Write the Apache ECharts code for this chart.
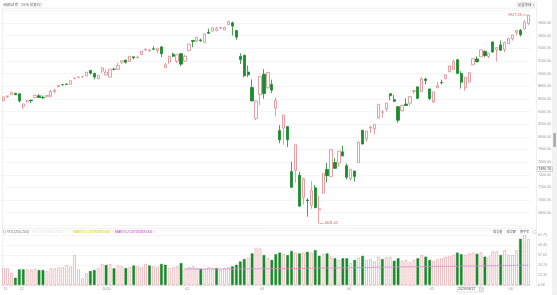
<!DOCTYPE html>
<html><head><meta charset="utf-8">
<script src="https://cdn.jsdelivr.net/npm/echarts@6/dist/echarts.min.js"></script>
<style>html,body{margin:0;padding:0;background:#fff;overflow:hidden}#c{width:557px;height:295px}</style>
</head><body><div id="c"></div>
<script>
const dates = [
'2019-11-25','2019-11-26','2019-11-27','2019-11-29',
'2019-12-02','2019-12-03','2019-12-04','2019-12-05','2019-12-06','2019-12-09','2019-12-10','2019-12-11','2019-12-12','2019-12-13','2019-12-16','2019-12-17','2019-12-18','2019-12-19','2019-12-20','2019-12-23','2019-12-24','2019-12-26','2019-12-27','2019-12-30','2019-12-31',
'2020-01-02','2020-01-03','2020-01-06','2020-01-07','2020-01-08','2020-01-09','2020-01-10','2020-01-13','2020-01-14','2020-01-15','2020-01-16','2020-01-17','2020-01-21','2020-01-22','2020-01-23','2020-01-24','2020-01-27','2020-01-28','2020-01-29','2020-01-30','2020-01-31',
'2020-02-03','2020-02-04','2020-02-05','2020-02-06','2020-02-07','2020-02-10','2020-02-11','2020-02-12','2020-02-13','2020-02-14','2020-02-18','2020-02-19','2020-02-20','2020-02-21','2020-02-24','2020-02-25','2020-02-26','2020-02-27','2020-02-28',
'2020-03-02','2020-03-03','2020-03-04','2020-03-05','2020-03-06','2020-03-09','2020-03-10','2020-03-11','2020-03-12','2020-03-13','2020-03-16','2020-03-17','2020-03-18','2020-03-19','2020-03-20','2020-03-23','2020-03-24','2020-03-25','2020-03-26','2020-03-27','2020-03-30','2020-03-31',
'2020-04-01','2020-04-02','2020-04-03','2020-04-06','2020-04-07','2020-04-08','2020-04-09','2020-04-13','2020-04-14','2020-04-15','2020-04-16','2020-04-17','2020-04-20','2020-04-21','2020-04-22','2020-04-23','2020-04-24','2020-04-27','2020-04-28','2020-04-29','2020-04-30',
'2020-05-01','2020-05-04','2020-05-05','2020-05-06','2020-05-07','2020-05-08','2020-05-11','2020-05-12','2020-05-13','2020-05-14','2020-05-15','2020-05-18','2020-05-19','2020-05-20','2020-05-21','2020-05-22','2020-05-26','2020-05-27','2020-05-28','2020-05-29',
'2020-06-01','2020-06-02','2020-06-03','2020-06-04','2020-06-05','2020-06-08'];

const opens = [8570,8637,8666,8689,
8682,8483,8561,8581,8620,8649,8624,8633,8644,8720,8791,8825,8834,8830,8920,8942,8950,8962,9049,9004,8918,
9039,8977,8944,9070,9068,9181,9213,9193,9265,9252,9302,9378,9359,9392,9362,9422,9093,9181,9307,9194,9315,
9198,9362,9524,9516,9533,9494,9655,9671,9680,9724,9690,9776,9802,9683,9273,9291,9025,8778,8290,
8667,8989,8782,8828,8454,8100,8139,8164,7450,7469,7394,7043,7000,6919,7193,6845,7111,7485,7374,7593,7585,7762,
7543,7338,7460,7595,8103,7966,8140,8130,8302,8390,8443,8683,8588,8477,8413,8519,8533,8717,8790,8717,8914,
8758,8552,8777,8859,8918,9032,9063,9219,9003,8776,8866,9140,9232,9265,9351,9271,9501,9376,9452,9382,
9471,9551,9654,9684,9703,9793];

const highs = [8633,8648,8705,8696,
8682,8522,8581,8581,8665,8674,8654,8660,8743,8763,8823,8833,8843,8887,8941,8949,8957,9022,9052,9007,8973,
9093,9065,9072,9092,9168,9204,9218,9274,9271,9285,9357,9390,9390,9430,9403,9438,9165,9284,9330,9305,9319,
9298,9469,9526,9572,9553,9628,9712,9726,9738,9735,9739,9838,9820,9684,9320,9294,9128,8909,8573,
8953,9071,9019,8904,8627,8184,8345,8165,7604,7875,7444,7354,7029,7301,7238,7072,7419,7587,7798,7663,7776,7862,
7580,7487,7461,7927,8110,8095,8179,8194,8518,8420,8540,8686,8661,8490,8510,8609,8637,8734,8790,8946,8933,
8759,8712,8867,8903,8990,9122,9220,9232,9038,8944,9022,9245,9272,9376,9367,9327,9505,9413,9523,9505,
9571,9609,9688,9704,9845,9927.13];

const lows = [8563,8614,8664,8665,
8543,8435,8542,8534,8616,8621,8601,8627,8627,8686,8784,8810,8823,8828,8913,8926,8934,8961,8987,8908,8912,
9011,8977,8944,9052,9060,9150,9157,9186,9225,9242,9291,9354,9340,9383,9313,9260,9088,9156,9260,9164,9118,
9188,9362,9417,9496,9502,9491,9626,9668,9668,9701,9684,9767,9603,9535,9151,8941,8945,8564,8264,
8501,8603,8758,8691,8322,7898,7876,7838,7194,7273,6900,6932,6737,6863,6870,6631.42,7105,7280,7370,7491,7524,7687,
7326,7303,7293,7591,7877,7919,8060,8036,8285,8305,8398,8576,8552,8222,8406,8488,8489,8680,8596,8706,8829,
8581,8537,8767,8829,8911,9016,9063,9000,8764,8727,8858,9139,9183,9264,9265,9242,9333,9191,9357,9339,
9469,9520,9610,9587,9700,9768];

const closes = [8632,8647,8705,8665,
8567,8521,8566,8570,8656,8622,8616,8654,8717,8735,8814,8823,8827,8887,8925,8945,8952,9022,9006,8945,8972,
9092,9020,9071,9068,9129,9203,9179,9274,9251,9259,9357,9389,9370,9384,9402,9315,9139,9269,9275,9298,9150,
9273,9467,9508,9572,9520,9628,9639,9726,9712,9731,9732,9817,9751,9577,9221,8966,8980,8567,8567,
8953,8684,9019,8738,8576,7950,8344,7953,7201,7875,6904,7335,6990,7150,6880,6861,7418,7385,7798,7502,7774,7700,
7361,7487,7373,7913,7887,8091,8154,8192,8516,8393,8532,8650,8561,8263,8495,8495,8635,8730,8608,8915,8890,
8605,8710,8810,8854,8980,9121,9192,9002,8863,8943,9015,9235,9185,9375,9284,9325,9340,9412,9369,9490,
9552,9608,9683,9616,9814,9925];

const volumes = [20.6,20.6,15.2,9.0,
19.3,19.3,19.3,19.0,20.2,18.5,18.5,16.9,20.6,20.6,21.8,21.8,24.7,22.6,37.0,19.3,8.2,14.4,17.3,18.5,20.6,
25.9,24.7,25.9,20.6,24.0,23.0,21.0,22.0,24.0,23.0,22.0,26.0,24.0,23.0,22.0,26.0,25.0,21.0,22.0,23.0,27.0,
21,22,23,21,20,20,22,21,21,19,21,22,23,25,29,32,34,39,46,
45,37,33,31,38,40,38,37,42,40,39,40,41,40,43,36,38,39,35,33,31,33,
33,27,31,34,36,31,32,29,35,32,34,35,30,33,30,31,28,31,33,37,35,
31,30,32,33,35,36,37,40,38,37,39,40,38.5,40,35,35,41.5,41.5,37,43,
37,37,43,57,61.75,57];

// MAVOL2 line, visible from 2020-02-03 to the last bar
const volMA2 = [19.7,19.7,19.8,19.8,19.8,19.7,19.8,19.8,19.8,19.8,19.7,19.8,19.8,19.8,19.9,19.9,19.9,20.0,20.0,20.0,20.1,20.1,20.1,20.2,20.2,
20.3,20.3,20.4,20.5,20.5,20.6,20.7,20.7,20.8,20.9,20.9,21.0,21.1,21.1,21.2,21.3,21.3,21.4,21.5,21.5,21.6,21.7,21.7,21.8,21.9,21.9,22.0,22.1,22.1,22.2,22.3,22.3,22.4,22.5,22.5,22.6,22.7,22.7,22.8,22.9,
22.9,23.0,23.1,23.1,23.2,23.3,23.3,23.4,23.5,23.5,23.6,23.7,23.7,23.8,23.9,23.9,24.0,24.1,24.1,24.2,24.3,24.4,24.5];

const UP = '#e2858c', DOWN = '#1b8a2b', VUP = '#e9a2a8', GRID = '#efefef', AX = '#9a9a9a', MARK = '#c8585e';
const FONT = 'Liberation Sans, Noto Sans CJK SC, sans-serif';
const CJK = 'Noto Sans CJK SC, sans-serif';

const chart = echarts.init(document.getElementById('c'), null, {renderer: 'canvas'});
const N = dates.length;
const maPad = new Array(N - volMA2.length).fill('-').concat(volMA2);
const isMonthStart = i => i === 0 || dates[i].slice(5, 7) !== dates[i - 1].slice(5, 7);

const gl = 1.53, gw = 528.77;
chart.setOption({
  animation: false,
  backgroundColor: '#fff',
  textStyle: {fontFamily: FONT},
  grid: [
    {left: gl, width: gw, top: 10.35, height: 215},
    {left: gl, width: gw, top: 230, height: 55}
  ],
  xAxis: [
    {type: 'category', gridIndex: 0, data: dates, axisLine: {show: false}, axisTick: {show: false}, axisLabel: {show: false}, splitLine: {show: false}},
    {type: 'category', gridIndex: 1, data: dates, axisLine: {lineStyle: {color: '#dcdcdc', width: 0.6}}, axisTick: {show: false}, splitLine: {show: false},
      axisLabel: {interval: i => isMonthStart(i), align: 'left', margin: 2.2, fontSize: 3.8, color: AX, fontFamily: FONT,
        formatter: (v, i) => (i > 0 && v.slice(0, 4) !== dates[i - 1].slice(0, 4)) ? v.slice(0, 4) : v.slice(5, 7)}}
  ],
  yAxis: [
    {type: 'value', gridIndex: 0, position: 'right', min: 6600, max: 10000, interval: 200, scale: true,
      axisLine: {show: false}, axisTick: {show: false}, splitLine: {lineStyle: {color: GRID, width: 0.6}},
      axisLabel: {showMinLabel: false, showMaxLabel: false, margin: 7.6, fontSize: 3.6, color: AX, align: 'left', fontFamily: FONT, formatter: v => v.toFixed(2)}},
    {type: 'value', gridIndex: 1, position: 'right', min: 0, max: 67.925, interval: 12.35,
      axisLine: {show: false}, axisTick: {show: false}, splitLine: {lineStyle: {color: GRID, width: 0.6}},
      axisLabel: {showMaxLabel: false, margin: 7.6, fontSize: 3.6, color: AX, align: 'left', fontFamily: FONT, formatter: v => v.toFixed(2)}}
  ],
  series: [
    {type: 'candlestick', xAxisIndex: 0, yAxisIndex: 0, barWidth: '70%',
      data: dates.map((d, i) => [opens[i], closes[i], lows[i], highs[i]]),
      itemStyle: {color: '#ffffff', color0: DOWN, borderColor: UP, borderColor0: DOWN, borderWidth: 0.8}},
    {type: 'bar', xAxisIndex: 1, yAxisIndex: 1, barWidth: '68%',
      data: volumes.map((v, i) => {
        const up = i === 0 ? closes[i] >= opens[i] : closes[i] >= closes[i - 1];
        return {value: v, itemStyle: up ? {color: '#ffffff', borderColor: VUP, borderWidth: 0.7} : {color: DOWN, borderColor: DOWN, borderWidth: 0.5}};
      })},
    {type: 'line', xAxisIndex: 1, yAxisIndex: 1, data: maPad, symbol: 'none', lineStyle: {color: '#d98bd9', width: 0.8}, z: 5}
  ]
});

let hi = 0, lo = 0;
highs.forEach((h, i) => { if (h > highs[hi]) hi = i; });
lows.forEach((l, i) => { if (l < lows[lo]) lo = i; });
const pH = chart.convertToPixel({xAxisIndex: 0, yAxisIndex: 0}, [hi, highs[hi]]);
const pL = chart.convertToPixel({xAxisIndex: 0, yAxisIndex: 0}, [lo, lows[lo]]);

const T = (x, y, text, fill, size, extra) => Object.assign({type: 'text', x: x, y: y, silent: true,
  style: Object.assign({text: text, fill: fill, fontSize: size, fontFamily: FONT, verticalAlign: 'middle'}, extra || {})});
const L = (x1, y1, x2, y2, c, w) => ({type: 'line', silent: true, shape: {x1, y1, x2, y2}, style: {stroke: c, lineWidth: w || 0.6}});

chart.setOption({graphic: [
  L(2.7, 8.2, 536.5, 8.2, '#e4e4e4'),
  L(2.7, 8.2, 2.7, 287, '#e4e4e4'),
  L(536.5, 8.2, 536.5, 287, '#e4e4e4'),
  L(2.7, 228.3, 536.5, 228.3, '#e4e4e4'),
  {type: 'rect', silent: true, shape: {x: 552.6, y: 0, width: 4.4, height: 295}, style: {fill: '#f3f3f3', stroke: '#e2e2e2', lineWidth: 0.4}},
  {type: 'rect', silent: true, shape: {x: 553.3, y: 133, width: 2.6, height: 14}, style: {fill: '#a9a9a9'}},
  T(3.2, 4.6, '纳斯达克', '#666', 3.8, {fontFamily: CJK}),
  T(20.5, 4.6, '(日线 前复权)', '#777', 3.6, {fontFamily: CJK}),
  {type: 'rect', silent: true, shape: {x: 516.5, y: 2.2, width: 20, height: 5}, style: {fill: '#f6f6f6', stroke: '#e6e6e6', lineWidth: 0.4}},
  T(517.8, 4.7, '设置均线', '#666', 3.4, {fontFamily: CJK}),
  T(533.2, 4.7, '▾', '#888', 3.4),
  {type: 'rect', silent: true, shape: {x: 3.3, y: 230.6, width: 2.4, height: 2.4}, style: {fill: '#fff', stroke: '#999', lineWidth: 0.4}},
  T(7, 231.8, 'VOL(250,200)', '#777', 3.5),
  T(32, 231.8, 'VOL:61748523.000', '#e2e2e2', 3.5),
  T(73, 231.8, 'MAVOL1:24780339.000 ↑', '#e3cf00', 3.5),
  T(115, 231.8, 'MAVOL2:24745333.000 ↑', '#c43bc4', 3.5),
  T(493, 231.8, '成交量', '#666', 3.2, {fontFamily: CJK}),
  T(506.5, 231.8, '成交额', '#666', 3.2, {fontFamily: CJK}),
  T(520, 231.8, '换手率', '#666', 3.2, {fontFamily: CJK}),
  {type: 'rect', silent: true, shape: {x: 532.5, y: 230, width: 3.6, height: 3.6}, style: {fill: '#f4f4f4', stroke: '#ccc', lineWidth: 0.4}},
  {type: 'rect', silent: true, shape: {x: 537.3, y: 166.6, width: 15, height: 5}, style: {fill: '#fff', stroke: '#9a9a9a', lineWidth: 0.5}},
  T(538.2, 169.1, '7490.70', '#444', 3.6),
  {type: 'rect', silent: true, shape: {x: 457.5, y: 287, width: 26, height: 5}, style: {fill: '#fff', stroke: '#bdbdbd', lineWidth: 0.5}},
  T(458.3, 289.5, '2020/06/12', '#555', 3.4),
  {type: 'rect', silent: true, shape: {x: 479.3, y: 288, width: 2.8, height: 2.8}, style: {fill: '#fff', stroke: '#888', lineWidth: 0.4}},
  L(pH[0] - 1.5, pH[1], pH[0] - 6.5, pH[1], MARK, 0.5),
  T(pH[0] - 7, pH[1], highs[hi].toFixed(2), MARK, 3.6, {align: 'right'}),
  L(pL[0], pL[1], pL[0] + 4.5, pL[1], MARK, 0.5),
  T(pL[0] + 5.5, pL[1], lows[lo].toFixed(2), MARK, 3.6, {align: 'left'})
]});
</script>
</body></html>
